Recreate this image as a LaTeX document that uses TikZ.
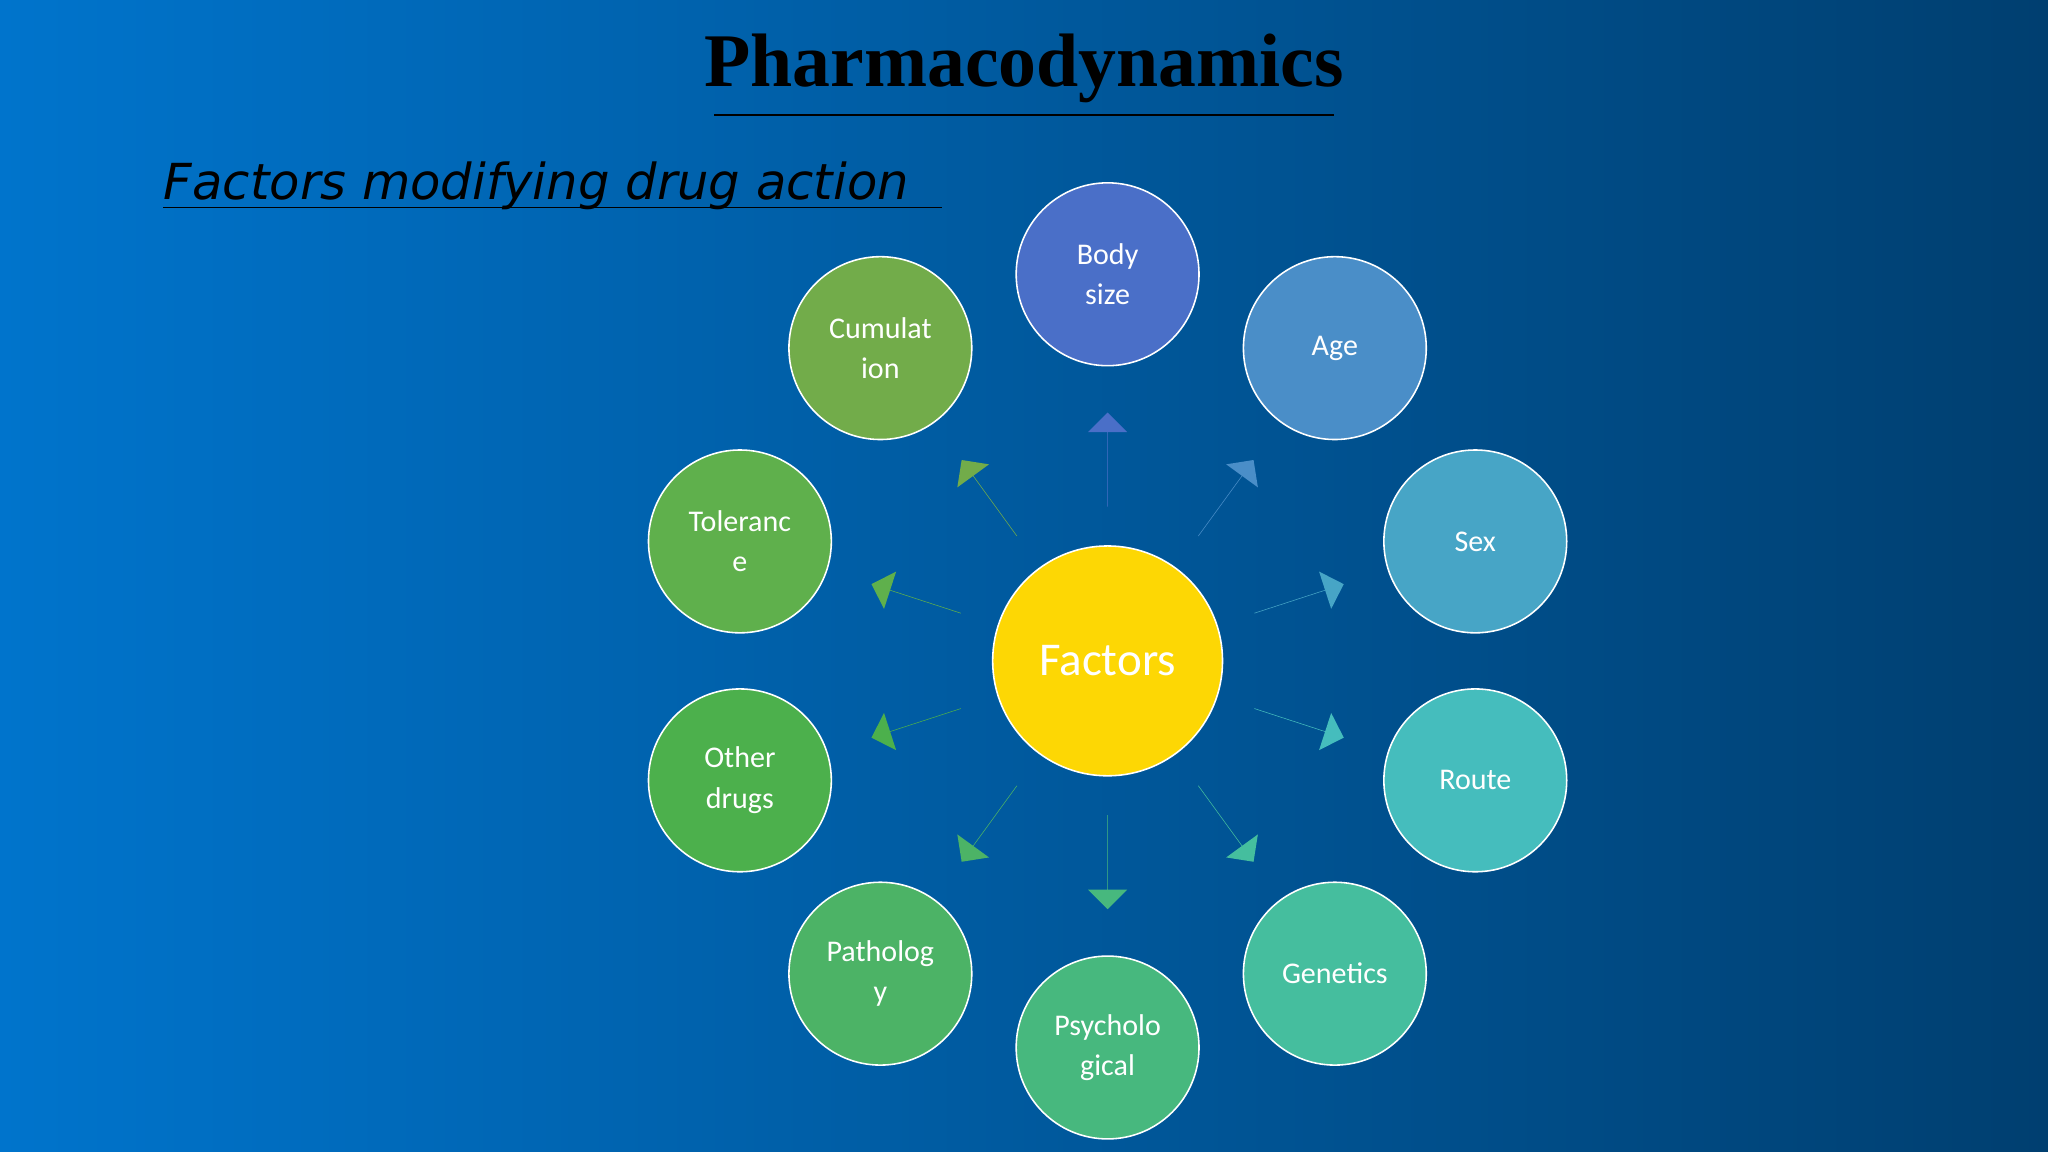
\documentclass[tikz,border=0pt]{standalone}
\usepackage{fontspec}
\setmainfont{Carlito}
\newfontfamily\titlef{Liberation Serif}
\newfontfamily\handf{DejaVu Sans}
\usetikzlibrary{shapes.arrows,calc}
\definecolor{bgl}{HTML}{0074CC}\definecolor{bgr}{HTML}{003F70}
\definecolor{c1}{HTML}{4A6FC8}\definecolor{c2}{HTML}{4A8EC8}\definecolor{c3}{HTML}{47A5C6}
\definecolor{c4}{HTML}{45BDBD}\definecolor{c5}{HTML}{45BE9E}\definecolor{c6}{HTML}{47B87E}
\definecolor{c7}{HTML}{4CB366}\definecolor{c8}{HTML}{4CB04C}\definecolor{c9}{HTML}{5FB04C}
\definecolor{c10}{HTML}{72AC4A}
\tikzset{
 outer/.style={circle,draw=white,line width=1.2pt,minimum size=140pt,inner sep=0pt,text=white,align=center,font=\fontsize{23}{31}\selectfont},
 arr/.style={single arrow,minimum height=72pt,minimum width=30pt,single arrow head extend=14pt,inner sep=0pt,draw=none}
}
\begin{document}
\begin{tikzpicture}[x=1pt,y=1pt]
\shade[left color=bgl,right color=bgr] (0,0) rectangle (1568,882);
\useasboundingbox (0,0) rectangle (1568,882);
\node[font=\titlef\bfseries\fontsize{58}{60}\selectfont] (title) at (784,830) {Pharmacodynamics};
\draw[line width=1pt] (547,794) -- (1021,794);
\node[font=\handf\itshape\fontsize{38}{40}\selectfont,anchor=west] (sub) at (122,740) {Factors modifying drug action};
\draw[line width=1.2pt] (125,723) -- (721,723);
\node[circle,fill=yellow!75!orange,draw=white,line width=1.2pt,minimum size=176pt,text=white,font=\fontsize{36}{40}\selectfont] (c) at (848,376) {Factors};
\foreach \n/\a/\t in {1/90/{Body\\size},2/54/Age,3/18/Sex,4/-18/Route,5/-54/Genetics,6/-90/{Psycholo\\gical},7/-126/{Patholog\\y},8/-162/{Other\\drugs},9/162/{Toleranc\\e},10/126/{Cumulat\\ion}}{
 \node[outer,fill=c\n] (o\n) at ($(c)+(\a:296)$) {\t};
 \node[arr,fill=c\n,rotate=\a] (a\n) at ($(c)+(\a:154)$) {};
}
\end{tikzpicture}
\end{document}
